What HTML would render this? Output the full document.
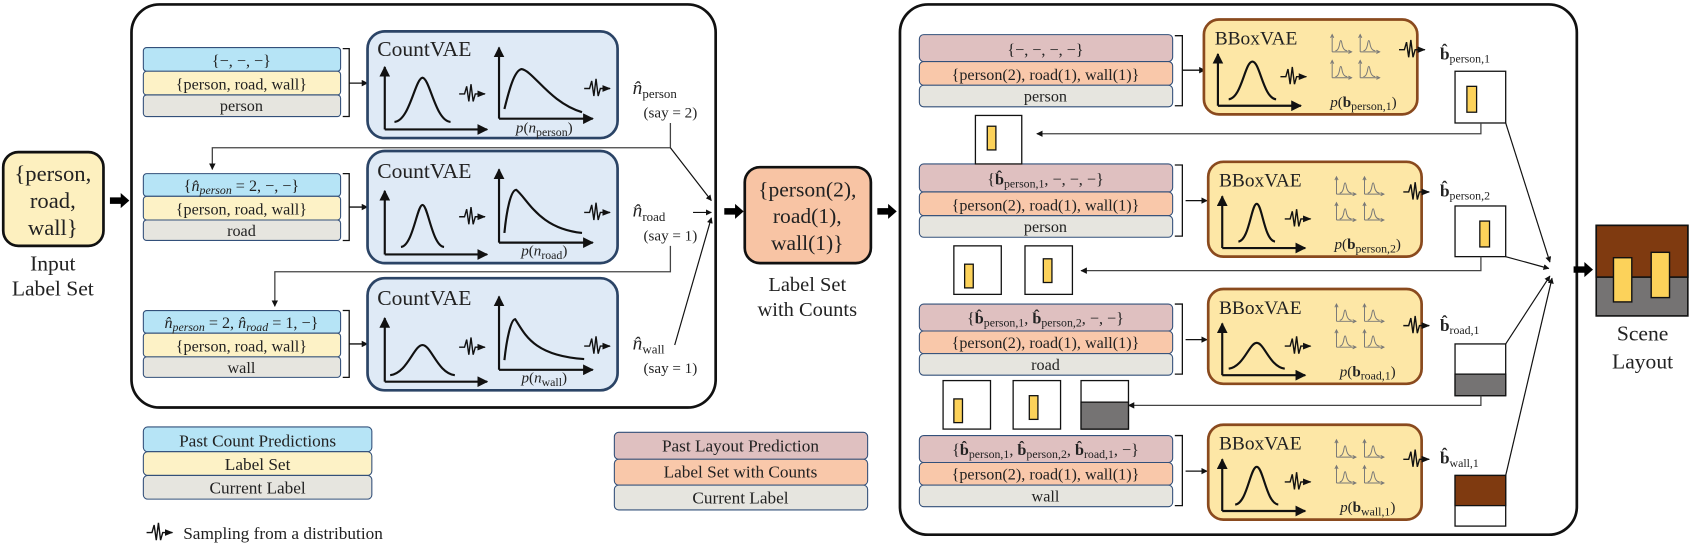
<!DOCTYPE html>
<html><head><meta charset="utf-8"><style>
html,body{margin:0;padding:0;background:#fff;}
svg{display:block;}
text{font-family:"Liberation Serif","DejaVu Serif",serif;fill:#222;}
</style></head><body>
<svg width="1690" height="551" viewBox="0 0 1568 511" xmlns="http://www.w3.org/2000/svg">
<defs>
<marker id="ar" viewBox="0 0 10 10" refX="9" refY="5" markerWidth="6" markerHeight="6" orient="auto"><path d="M0,1 L10,5 L0,9 z" fill="#111"/></marker>
<marker id="ab" viewBox="0 0 10 10" refX="9" refY="5" markerWidth="5" markerHeight="5" orient="auto"><path d="M0,0 L10,5 L0,10 z" fill="#111"/></marker>
<g id="sq"><path d="M0,0 H5 L7,-7 L9,7 L11,-9 L13,7 L15,0 H24" fill="none" stroke="#111" stroke-width="1.3" marker-end="url(#ar)"/></g>
<g id="fat"><path d="M0,-3 H10 V-7 L18,0 L10,7 V3 H0 z" fill="#000"/></g>
<g id="mini" stroke="#777" fill="none" stroke-width="0.9"><path d="M0,0 V-16 M0,0 H18"/><path d="M-1.5,-13 L0,-16 L1.5,-13 M15,-1.5 L18,0 L15,1.5"/><path d="M3,-1 Q6,-1 7,-8 Q8,-13 9,-8 Q10,-1 14,-1"/></g>
<g id="minis"><use href="#mini" x="0" y="0"/><use href="#mini" x="26" y="0"/><use href="#mini" x="0" y="24"/><use href="#mini" x="26" y="24"/></g>
</defs>

<!-- Input label set -->
<rect x="3" y="141" width="93" height="87" rx="14" fill="#fdf0bf" stroke="#111" stroke-width="2.5"/>
<text x="49" y="168" font-size="21" text-anchor="middle">{person,</text>
<text x="49" y="193" font-size="21" text-anchor="middle">road,</text>
<text x="49" y="218" font-size="21" text-anchor="middle">wall}</text>
<text x="49" y="251" font-size="20" text-anchor="middle">Input</text>
<text x="49" y="274" font-size="20" text-anchor="middle">Label Set</text>
<use href="#fat" x="102" y="186"/>

<!-- Left panel -->
<rect x="122" y="4" width="542" height="374" rx="26" fill="none" stroke="#111" stroke-width="2.5"/>

<g font-size="15">
<rect x="133" y="44" width="183" height="22" rx="3" fill="#b6e4f6" stroke="#33507a"/>
<rect x="133" y="66" width="183" height="22" rx="3" fill="#fdf2c6" stroke="#33507a"/>
<rect x="133" y="88" width="183" height="20" rx="3" fill="#e6e5df" stroke="#33507a"/>
<text x="224" y="61" text-anchor="middle">{−, −, −}</text>
<text x="224" y="83" text-anchor="middle">{person, road, wall}</text>
<text x="224" y="103" text-anchor="middle">person</text>

<rect x="133" y="161" width="183" height="21" rx="3" fill="#b6e4f6" stroke="#33507a"/>
<rect x="133" y="182" width="183" height="22" rx="3" fill="#fdf2c6" stroke="#33507a"/>
<rect x="133" y="204" width="183" height="19" rx="3" fill="#e6e5df" stroke="#33507a"/>
<text x="224" y="177" text-anchor="middle">{<tspan font-style="italic">n̂</tspan><tspan font-style="italic" font-size="11" dy="3">person</tspan><tspan dy="-3"> = 2, −, −}</tspan></text>
<text x="224" y="199" text-anchor="middle">{person, road, wall}</text>
<text x="224" y="219" text-anchor="middle">road</text>

<rect x="133" y="288" width="183" height="21" rx="3" fill="#b6e4f6" stroke="#33507a"/>
<rect x="133" y="309" width="183" height="22" rx="3" fill="#fdf2c6" stroke="#33507a"/>
<rect x="133" y="331" width="183" height="19" rx="3" fill="#e6e5df" stroke="#33507a"/>
<text x="224" y="304" text-anchor="middle"><tspan font-style="italic">n̂</tspan><tspan font-style="italic" font-size="11" dy="3">person</tspan><tspan dy="-3"> = 2, </tspan><tspan font-style="italic">n̂</tspan><tspan font-style="italic" font-size="11" dy="3">road</tspan><tspan dy="-3"> = 1, −}</tspan></text>
<text x="224" y="326" text-anchor="middle">{person, road, wall}</text>
<text x="224" y="346" text-anchor="middle">wall</text>
</g>
<g fill="none" stroke="#111" stroke-width="1.2">
<path d="M318,45 H324 V108 H318"/><path d="M318,161 H324 V223 H318"/><path d="M318,288 H324 V350 H318"/>
</g>
<g stroke="#111" stroke-width="1.2" marker-end="url(#ab)">
<line x1="324" y1="77" x2="341" y2="77"/><line x1="324" y1="192" x2="341" y2="192"/><line x1="324" y1="319" x2="341" y2="319"/>
</g>

<g>
<rect x="341" y="29" width="232" height="99" rx="16" fill="#dfeaf6" stroke="#2b4466" stroke-width="2.5"/>
<text x="350" y="52" font-size="20">CountVAE</text>
<g fill="none" stroke="#111" stroke-width="2" marker-end="url(#ab)">
<path d="M357,120 V62"/><path d="M357,120 H452"/><path d="M463,110 V44"/><path d="M463,110 H550"/>
</g>
<path d="M366,113 C380,112 385,73 392,72 C399,73 404,112 418,113" fill="none" stroke="#111" stroke-width="2"/>
<path d="M468,101 C472,85 477,65 484,64 C495,66 510,95 540,104" fill="none" stroke="#111" stroke-width="2"/>
<use href="#sq" x="426" y="87"/>
<text x="505" y="123" font-size="14" text-anchor="middle"><tspan font-style="italic">p</tspan>(<tspan font-style="italic">n</tspan><tspan font-size="11" dy="3">person</tspan><tspan dy="-3">)</tspan></text>
</g>
<g>
<rect x="341" y="140" width="232" height="104" rx="16" fill="#dfeaf6" stroke="#2b4466" stroke-width="2.5"/>
<text x="350" y="165" font-size="20">CountVAE</text>
<g fill="none" stroke="#111" stroke-width="2" marker-end="url(#ab)">
<path d="M357,236 V177"/><path d="M357,236 H452"/><path d="M463,225 V157"/><path d="M463,225 H550"/>
</g>
<path d="M372,229 C383,228 387,190 392,190 C397,190 401,228 412,229" fill="none" stroke="#111" stroke-width="2"/>
<path d="M468,216 C470,195 474,176 479,176 C490,185 500,212 540,216" fill="none" stroke="#111" stroke-width="2"/>
<use href="#sq" x="426" y="201"/>
<text x="505" y="237" font-size="14" text-anchor="middle"><tspan font-style="italic">p</tspan>(<tspan font-style="italic">n</tspan><tspan font-size="11" dy="3">road</tspan><tspan dy="-3">)</tspan></text>
</g>
<g>
<rect x="341" y="258" width="232" height="104" rx="16" fill="#dfeaf6" stroke="#2b4466" stroke-width="2.5"/>
<text x="350" y="283" font-size="20">CountVAE</text>
<g fill="none" stroke="#111" stroke-width="2" marker-end="url(#ab)">
<path d="M357,354 V295"/><path d="M357,354 H452"/><path d="M463,343 V275"/><path d="M463,343 H550"/>
</g>
<path d="M362,348 C378,346 384,320 392,320 C400,320 406,346 422,348" fill="none" stroke="#111" stroke-width="2"/>
<path d="M468,334 C470,315 474,296 478,296 C487,310 495,330 542,333" fill="none" stroke="#111" stroke-width="2"/>
<use href="#sq" x="426" y="322"/>
<text x="505" y="355" font-size="14" text-anchor="middle"><tspan font-style="italic">p</tspan>(<tspan font-style="italic">n</tspan><tspan font-size="11" dy="3">wall</tspan><tspan dy="-3">)</tspan></text>
</g>

<use href="#sq" x="542" y="82"/><use href="#sq" x="542" y="197"/><use href="#sq" x="542" y="321"/>
<text x="587" y="87" font-size="18"><tspan font-style="italic">n̂</tspan><tspan font-size="12" dy="4">person</tspan></text>
<text x="622" y="109" font-size="14" text-anchor="middle" fill="#444">(say = 2)</text>
<text x="587" y="201" font-size="18"><tspan font-style="italic">n̂</tspan><tspan font-size="12" dy="4">road</tspan></text>
<text x="622" y="223" font-size="14" text-anchor="middle" fill="#444">(say = 1)</text>
<text x="587" y="324" font-size="18"><tspan font-style="italic">n̂</tspan><tspan font-size="12" dy="4">wall</tspan></text>
<text x="622" y="346" font-size="14" text-anchor="middle" fill="#444">(say = 1)</text>

<g fill="none" stroke="#444" stroke-width="1.2">
<path d="M622,114 V137 H197 V157" marker-end="url(#ab)"/>
<path d="M622,228 V252 H255 V284" marker-end="url(#ab)"/>
</g>
<g stroke="#111" stroke-width="1.1" marker-end="url(#ab)">
<line x1="622" y1="137" x2="660" y2="186"/>
<line x1="643" y1="197" x2="660" y2="197"/>
<line x1="626" y1="320" x2="660" y2="202"/>
</g>

<g font-size="16">
<rect x="133" y="396" width="212" height="23" rx="4" fill="#b6e4f6" stroke="#33507a"/>
<rect x="133" y="419" width="212" height="22" rx="4" fill="#fdf2c6" stroke="#33507a"/>
<rect x="133" y="441" width="212" height="22" rx="4" fill="#e6e5df" stroke="#33507a"/>
<text x="239" y="414" text-anchor="middle">Past Count Predictions</text>
<text x="239" y="436" text-anchor="middle">Label Set</text>
<text x="239" y="458" text-anchor="middle">Current Label</text>
<use href="#sq" x="136" y="494"/>
<text x="170" y="500" font-size="16">Sampling from a distribution</text>
</g>

<use href="#fat" x="672" y="196"/>
<rect x="691" y="155" width="117" height="89" rx="14" fill="#f8c4a4" stroke="#111" stroke-width="2.5"/>
<text x="749" y="182" font-size="20" text-anchor="middle">{person(2),</text>
<text x="749" y="207" font-size="20" text-anchor="middle">road(1),</text>
<text x="749" y="232" font-size="20" text-anchor="middle">wall(1)}</text>
<text x="749" y="270" font-size="19" text-anchor="middle">Label Set</text>
<text x="749" y="293" font-size="19" text-anchor="middle">with Counts</text>
<use href="#fat" x="814" y="196"/>

<rect x="835" y="4" width="628" height="492" rx="26" fill="none" stroke="#111" stroke-width="2.5"/>

<g font-size="15">
<rect x="853" y="32" width="235" height="25" rx="4" fill="#dfc0c0" stroke="#33507a"/>
<rect x="853" y="57" width="235" height="22" rx="4" fill="#f9c8aa" stroke="#33507a"/>
<rect x="853" y="79" width="235" height="20" rx="4" fill="#e6e5df" stroke="#33507a"/>
<text x="970" y="51" text-anchor="middle">{−, −, −, −}</text>
<text x="970" y="74" text-anchor="middle">{person(2), road(1), wall(1)}</text>
<text x="970" y="94" text-anchor="middle">person</text>
<rect x="853" y="152" width="235" height="26" rx="4" fill="#dfc0c0" stroke="#33507a"/>
<rect x="853" y="178" width="235" height="22" rx="4" fill="#f9c8aa" stroke="#33507a"/>
<rect x="853" y="200" width="235" height="20" rx="4" fill="#e6e5df" stroke="#33507a"/>
<text x="970" y="171" text-anchor="middle">{<tspan font-weight="bold">b̂</tspan><tspan font-size="11" dy="3">person,1</tspan><tspan dy="-3">, −, −, −}</tspan></text>
<text x="970" y="195" text-anchor="middle">{person(2), road(1), wall(1)}</text>
<text x="970" y="215" text-anchor="middle">person</text>
<rect x="853" y="282" width="235" height="25" rx="4" fill="#dfc0c0" stroke="#33507a"/>
<rect x="853" y="307" width="235" height="21" rx="4" fill="#f9c8aa" stroke="#33507a"/>
<rect x="853" y="328" width="235" height="20" rx="4" fill="#e6e5df" stroke="#33507a"/>
<text x="970" y="300" text-anchor="middle">{<tspan font-weight="bold">b̂</tspan><tspan font-size="11" dy="3">person,1</tspan><tspan dy="-3">, </tspan><tspan font-weight="bold">b̂</tspan><tspan font-size="11" dy="3">person,2</tspan><tspan dy="-3">, −, −}</tspan></text>
<text x="970" y="323" text-anchor="middle">{person(2), road(1), wall(1)}</text>
<text x="970" y="343" text-anchor="middle">road</text>
<rect x="853" y="404" width="235" height="25" rx="4" fill="#dfc0c0" stroke="#33507a"/>
<rect x="853" y="429" width="235" height="21" rx="4" fill="#f9c8aa" stroke="#33507a"/>
<rect x="853" y="450" width="235" height="20" rx="4" fill="#e6e5df" stroke="#33507a"/>
<text x="970" y="422" text-anchor="middle">{<tspan font-weight="bold">b̂</tspan><tspan font-size="11" dy="3">person,1</tspan><tspan dy="-3">, </tspan><tspan font-weight="bold">b̂</tspan><tspan font-size="11" dy="3">person,2</tspan><tspan dy="-3">, </tspan><tspan font-weight="bold">b̂</tspan><tspan font-size="11" dy="3">road,1</tspan><tspan dy="-3">, −}</tspan></text>
<text x="970" y="445" text-anchor="middle">{person(2), road(1), wall(1)}</text>
<text x="970" y="465" text-anchor="middle">wall</text>
</g>
<g fill="none" stroke="#111" stroke-width="1.2">
<path d="M1090,33 H1097 V98 H1090"/><path d="M1090,153 H1097 V219 H1090"/><path d="M1090,282 H1097 V347 H1090"/><path d="M1090,404 H1097 V469 H1090"/>
</g>
<g stroke="#111" stroke-width="1.2" marker-end="url(#ab)">
<line x1="1097" y1="65" x2="1118" y2="65"/><line x1="1100" y1="186" x2="1120" y2="186"/><line x1="1100" y1="315" x2="1120" y2="315"/><line x1="1100" y1="437" x2="1120" y2="437"/>
</g>

<g>
<rect x="1117" y="18" width="198" height="88" rx="14" fill="#fde7a6" stroke="#8a4a1e" stroke-width="2.5"/>
<text x="1127" y="41" font-size="18">BBoxVAE</text>
<g fill="none" stroke="#111" stroke-width="2" marker-end="url(#ab)"><path d="M1130,98 V50"/><path d="M1130,98 H1207"/></g>
<path d="M1140,92 C1152,91 1155,57 1162,57 C1169,57 1172,91 1184,92" fill="none" stroke="#111" stroke-width="2"/>
<use href="#sq" x="1188" y="71"/>
<use href="#minis" x="1236" y="48"/>
<text x="1265" y="99" font-size="14" text-anchor="middle"><tspan font-style="italic">p</tspan>(<tspan font-weight="bold">b</tspan><tspan font-size="11" dy="3">person,1</tspan><tspan dy="-3">)</tspan></text>
</g>
<g transform="translate(4,132)">
<rect x="1117" y="18" width="198" height="88" rx="14" fill="#fde7a6" stroke="#8a4a1e" stroke-width="2.5"/>
<text x="1127" y="41" font-size="18">BBoxVAE</text>
<g fill="none" stroke="#111" stroke-width="2" marker-end="url(#ab)"><path d="M1130,98 V50"/><path d="M1130,98 H1207"/></g>
<path d="M1145,92 C1155,91 1157,57 1162,57 C1167,57 1169,91 1179,92" fill="none" stroke="#111" stroke-width="2"/>
<use href="#sq" x="1188" y="71"/>
<use href="#minis" x="1236" y="48"/>
<text x="1265" y="99" font-size="14" text-anchor="middle"><tspan font-style="italic">p</tspan>(<tspan font-weight="bold">b</tspan><tspan font-size="11" dy="3">person,2</tspan><tspan dy="-3">)</tspan></text>
</g>
<g transform="translate(4,250)">
<rect x="1117" y="18" width="198" height="88" rx="14" fill="#fde7a6" stroke="#8a4a1e" stroke-width="2.5"/>
<text x="1127" y="41" font-size="18">BBoxVAE</text>
<g fill="none" stroke="#111" stroke-width="2" marker-end="url(#ab)"><path d="M1130,98 V50"/><path d="M1130,98 H1207"/></g>
<path d="M1136,92 C1150,90 1155,68 1162,68 C1169,68 1174,90 1188,92" fill="none" stroke="#111" stroke-width="2"/>
<use href="#sq" x="1188" y="71"/>
<use href="#minis" x="1236" y="48"/>
<text x="1265" y="99" font-size="14" text-anchor="middle"><tspan font-style="italic">p</tspan>(<tspan font-weight="bold">b</tspan><tspan font-size="11" dy="3">road,1</tspan><tspan dy="-3">)</tspan></text>
</g>
<g transform="translate(4,376)">
<rect x="1117" y="18" width="198" height="88" rx="14" fill="#fde7a6" stroke="#8a4a1e" stroke-width="2.5"/>
<text x="1127" y="41" font-size="18">BBoxVAE</text>
<g fill="none" stroke="#111" stroke-width="2" marker-end="url(#ab)"><path d="M1130,98 V50"/><path d="M1130,98 H1207"/></g>
<path d="M1142,92 C1153,91 1156,57 1162,57 C1168,57 1171,91 1182,92" fill="none" stroke="#111" stroke-width="2"/>
<use href="#sq" x="1188" y="71"/>
<use href="#minis" x="1236" y="48"/>
<text x="1265" y="99" font-size="14" text-anchor="middle"><tspan font-style="italic">p</tspan>(<tspan font-weight="bold">b</tspan><tspan font-size="11" dy="3">wall,1</tspan><tspan dy="-3">)</tspan></text>
</g>

<use href="#sq" x="1298" y="46"/><use href="#sq" x="1302" y="178"/><use href="#sq" x="1302" y="302"/><use href="#sq" x="1302" y="426"/>
<g font-size="16">
<text x="1336" y="55"><tspan font-weight="bold">b̂</tspan><tspan font-size="11" dy="3">person,1</tspan></text>
<text x="1336" y="182"><tspan font-weight="bold">b̂</tspan><tspan font-size="11" dy="3">person,2</tspan></text>
<text x="1336" y="307"><tspan font-weight="bold">b̂</tspan><tspan font-size="11" dy="3">road,1</tspan></text>
<text x="1336" y="430"><tspan font-weight="bold">b̂</tspan><tspan font-size="11" dy="3">wall,1</tspan></text>
</g>
<g stroke="#111" stroke-width="1.2">
<rect x="1350" y="66" width="47" height="48" fill="#fff"/><rect x="1361" y="80" width="9" height="24" fill="#fcd25a"/>
<rect x="1350" y="191" width="47" height="47" fill="#fff"/><rect x="1373" y="205" width="9" height="24" fill="#fcd25a"/>
<rect x="1350" y="319" width="47" height="48" fill="#fff"/><rect x="1350" y="347" width="47" height="20" fill="#757373"/>
<rect x="1350" y="441" width="47" height="47" fill="#fff"/><rect x="1350" y="441" width="47" height="28" fill="#7f3a10"/>
</g>
<g fill="none" stroke="#444" stroke-width="1.2" marker-end="url(#ab)">
<path d="M1374,114 V124 H962"/>
<path d="M1374,238 V251 H1003"/>
<path d="M1374,367 V376 H1047"/>
</g>
<g stroke="#111" stroke-width="1.2">
<rect x="905" y="107" width="43" height="45" fill="#fff"/><rect x="916" y="117" width="8" height="22" fill="#fcd25a"/>
<rect x="885" y="228" width="44" height="45" fill="#fff"/><rect x="895" y="245" width="8" height="22" fill="#fcd25a"/>
<rect x="951" y="228" width="44" height="45" fill="#fff"/><rect x="968" y="240" width="8" height="22" fill="#fcd25a"/>
<rect x="875" y="353" width="44" height="45" fill="#fff"/><rect x="885" y="370" width="8" height="22" fill="#fcd25a"/>
<rect x="940" y="353" width="44" height="45" fill="#fff"/><rect x="955" y="367" width="8" height="22" fill="#fcd25a"/>
<rect x="1003" y="353" width="44" height="45" fill="#fff"/><rect x="1003" y="373" width="44" height="25" fill="#757373"/>
</g>
<g stroke="#111" stroke-width="1.1" marker-end="url(#ab)">
<line x1="1397" y1="114" x2="1438" y2="243"/>
<line x1="1397" y1="238" x2="1437" y2="249"/>
<line x1="1397" y1="319" x2="1438" y2="256"/>
<line x1="1397" y1="441" x2="1440" y2="258"/>
</g>

<use href="#fat" x="1460" y="250"/>
<rect x="1481" y="209" width="85" height="84" fill="#757373" stroke="#111" stroke-width="1.5"/>
<rect x="1481" y="209" width="85" height="48" fill="#7f3a10" stroke="#111" stroke-width="1.5"/>
<rect x="1497" y="239" width="17" height="41" fill="#fcd25a" stroke="#111" stroke-width="1.3"/>
<rect x="1532" y="234" width="17" height="42" fill="#fcd25a" stroke="#111" stroke-width="1.3"/>
<text x="1524" y="316" font-size="20" text-anchor="middle">Scene</text>
<text x="1524" y="342" font-size="20" text-anchor="middle">Layout</text>

<g font-size="16">
<rect x="570" y="401" width="235" height="25" rx="4" fill="#dfc0c0" stroke="#33507a"/>
<rect x="570" y="426" width="235" height="24" rx="4" fill="#f9c8aa" stroke="#33507a"/>
<rect x="570" y="450" width="235" height="23" rx="4" fill="#e6e5df" stroke="#33507a"/>
<text x="687" y="419" text-anchor="middle">Past Layout Prediction</text>
<text x="687" y="443" text-anchor="middle">Label Set with Counts</text>
<text x="687" y="467" text-anchor="middle">Current Label</text>
</g>
</svg>
</body></html>
